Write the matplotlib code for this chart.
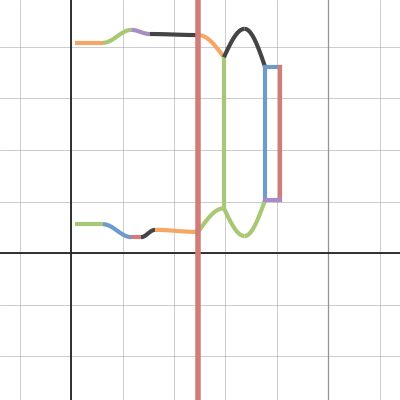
import numpy as np
import matplotlib
matplotlib.use("Agg")
import matplotlib.pyplot as plt

top_x = [0.08, 0.62, 1.17, 1.53, 2.47]
top_y = [4.08, 4.08, 4.33, 4.25, 4.23]
top_c = ["#f6a766", "#a9c875", "#a98cc4", "#444444"]
bot_x = [0.08, 0.62, 1.17, 1.36, 1.63, 2.47]
bot_y = [0.56, 0.56, 0.31, 0.31, 0.45, 0.41]
bot_c = ["#a9c875", "#6f9bcc", "#d27c7a", "#444444", "#f6a766"]
red_x = 2.47
join_x = 2.97
arc_top = [3.80, 4.35, 3.61]
arc_bot = [0.87, 0.33, 1.03]
rect_x = [3.77, 4.06]
rect_y = [1.03, 3.61]

fig = plt.figure(figsize=(4, 4), dpi=100)
ax = fig.add_axes([0, 0, 1, 1])
ax.set_xlim(-1.38, 6.39)
ax.set_ylim(-2.85, 4.91)
for g in np.arange(-1, 7):
    ax.axvline(g, color="#888", lw=0.9 if g == 5 else 0.5, alpha=0.6 if g != 5 else 0.9, zorder=0)
for g in np.arange(-2, 5):
    ax.axhline(g, color="#888", lw=0.5, alpha=0.6, zorder=0)
ax.axhline(0, color="#222", lw=1.3)
ax.axvline(0, color="#222", lw=1.3)
ax.axis("off")

LW = 3
def seg(x0, x1, y0, y1, c, mode="s"):
    t = np.linspace(0, 1, 50)
    if mode == "s":
        s = (1 - np.cos(np.pi * t)) / 2
    elif mode == "out":
        s = np.sin(np.pi / 2 * t)
    else:
        s = 1 - np.cos(np.pi / 2 * t)
    ax.plot(x0 + (x1 - x0) * t, y0 + (y1 - y0) * s, color=c, lw=LW, solid_capstyle="butt")

for i, c in enumerate(top_c):
    seg(top_x[i], top_x[i+1], top_y[i], top_y[i+1], c)
for i, c in enumerate(bot_c):
    seg(bot_x[i], bot_x[i+1], bot_y[i], bot_y[i+1], c)
seg(red_x, join_x, top_y[-1], arc_top[0], "#f6a766", "in")
seg(red_x, join_x, bot_y[-1], arc_bot[0], "#a9c875", "out")
ax.plot([join_x, join_x], [arc_bot[0], arc_top[0]], color="#a9c875", lw=LW)
xm = (join_x + rect_x[0]) / 2
for arc, c in ((arc_top, "#444444"), (arc_bot, "#a9c875")):
    seg(join_x, xm, arc[0], arc[1], c, "out")
    seg(xm, rect_x[0], arc[1], arc[2], c, "in")
ax.plot([rect_x[0], rect_x[0]], rect_y, color="#6f9bcc", lw=LW)
ax.plot(rect_x, [rect_y[1]] * 2, color="#6f9bcc", lw=LW)
ax.plot([rect_x[1], rect_x[1]], rect_y, color="#d27c7a", lw=LW)
ax.plot(rect_x, [rect_y[0]] * 2, color="#a98cc4", lw=LW)
ax.axvline(red_x, color="#d27c7a", lw=4)
fig.savefig("out.png", dpi=100)
